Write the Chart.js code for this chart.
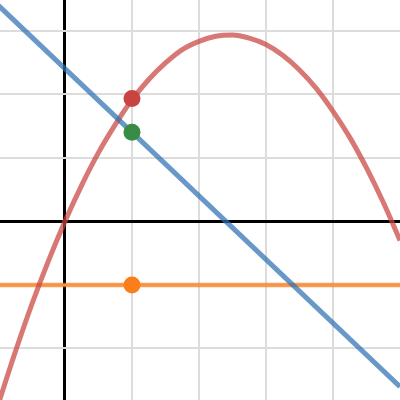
<!DOCTYPE html>
<html>
<head>
<meta charset="utf-8">
<script src="https://cdn.jsdelivr.net/npm/chart.js@4/dist/chart.umd.min.js"></script>
<style>
html,body{margin:0;padding:0;background:#fff;}
#wrap{width:400px;height:400px;}
</style>
</head>
<body>
<div id="wrap"><canvas id="c" width="400" height="400"></canvas></div>
<script>
// Parabola samples
const curveX = [-1, -0.75, -0.5, -0.25, 0, 0.25, 0.5, 0.75, 1, 1.25, 1.5, 1.75, 2, 2.25, 2.5, 2.75, 3, 3.25, 3.5, 3.75, 4, 4.25, 4.5, 4.75, 5];
const curveY = [-2.89, -2.08, -1.32, -0.63, 0, 0.57, 1.08, 1.52, 1.91, 2.23, 2.49, 2.70, 2.83, 2.91, 2.93, 2.88, 2.78, 2.61, 2.38, 2.09, 1.73, 1.32, 0.84, 0.30, -0.30];
// Straight line (blue) end points
const lineX = [-1, 5];
const lineY = [3.4, -2.6];
// Horizontal line (orange)
const hLineX = [-1, 5];
const hLineY = [-1, -1];
// Points at x = 1
const redPoint = {x: 1, y: 1.93};
const greenPoint = {x: 1, y: 1.40};
const orangePoint = {x: 1, y: -1};
// Axis window and grid ticks
const xRange = [-0.97, 5.0];
const yRange = [-2.81, 3.48];
const xTicks = [0, 1, 2, 3, 4];
const yTicks = [-2, -1, 0, 1, 2, 3];

const toPts = (xs, ys) => xs.map((x, i) => ({x: x, y: ys[i]}));

const gridOpts = {
  color: c => (c.tick && c.tick.value === 0) ? '#000000' : '#dcdcdc',
  lineWidth: c => (c.tick && c.tick.value === 0) ? 3 : 2,
  drawTicks: false
};

new Chart(document.getElementById('c'), {
  type: 'scatter',
  data: {
    datasets: [
      {data: [redPoint], backgroundColor: '#c74440', borderWidth: 0, pointRadius: 8.5, order: 0},
      {data: [greenPoint], backgroundColor: '#388c46', borderWidth: 0, pointRadius: 8.5, order: 0},
      {data: [orangePoint], backgroundColor: '#fa7e19', borderWidth: 0, pointRadius: 8.5, order: 0},
      {data: toPts(lineX, lineY), showLine: true, borderColor: 'rgba(45,112,179,0.72)', borderWidth: 5, pointRadius: 0, order: 1},
      {data: toPts(curveX, curveY), showLine: true, borderColor: 'rgba(199,68,64,0.72)', borderWidth: 5, pointRadius: 0, tension: 0.4, cubicInterpolationMode: 'monotone', order: 2},
      {data: toPts(hLineX, hLineY), showLine: true, borderColor: 'rgba(250,126,25,0.75)', borderWidth: 4.5, pointRadius: 0, order: 3}
    ]
  },
  options: {
    responsive: false,
    animation: false,
    layout: {padding: 0, autoPadding: false},
    plugins: {legend: {display: false}, tooltip: {enabled: false}},
    scales: {
      x: {
        type: 'linear', min: xRange[0], max: xRange[1],
        afterBuildTicks: s => { s.ticks = xTicks.map(v => ({value: v})); },
        ticks: {display: false, padding: 0},
        grid: gridOpts,
        border: {display: false}
      },
      y: {
        type: 'linear', min: yRange[0], max: yRange[1],
        afterBuildTicks: s => { s.ticks = yTicks.map(v => ({value: v})); },
        ticks: {display: false, padding: 0},
        grid: gridOpts,
        border: {display: false}
      }
    }
  }
});
</script>
</body>
</html>
